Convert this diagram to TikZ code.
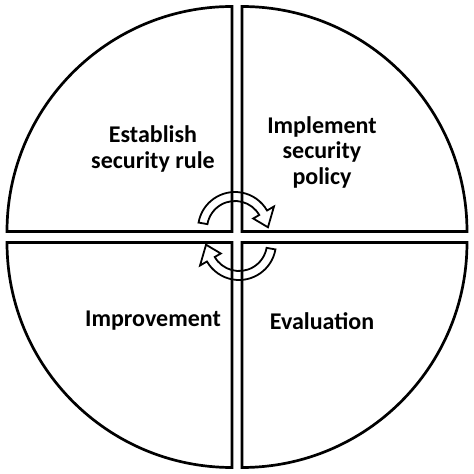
\documentclass[tikz,border=0pt]{standalone}
\usepackage{fontspec}
\setmainfont{Carlito}
\usepackage{tikz}

\tikzset{
	quarter/.style={draw=black, line width=2.7pt, line join=miter},
	label/.style={font=\bfseries\fontsize{24}{25.5}\selectfont, align=center, inner sep=0pt},
	cyclearrow/.pic={
		\draw[line width=1.8pt, line join=miter] (170:37) arc[start angle=170, end angle=30, radius=37]
			-- (30:45) -- (3:33) -- (30:21) -- (30:28)
			arc[start angle=30, end angle=170, radius=28] -- cycle;
	}
}

\begin{document}
\begin{tikzpicture}[x=1pt, y=1pt]
	\useasboundingbox (0,0) rectangle (474,474);

	% four quarters
	\draw[quarter] (232,242.5) -- (7,242.5) arc[start angle=180, end angle=90, radius=225] -- cycle;
	\draw[quarter] (242,242.5) -- (242,467.5) arc[start angle=90, end angle=0, radius=225] -- cycle;
	\draw[quarter] (232,231.5) -- (232,6.5) arc[start angle=270, end angle=180, radius=225] -- cycle;
	\draw[quarter] (242,231.5) -- (467,231.5) arc[start angle=0, end angle=-90, radius=225] -- cycle;

	% labels
	\node[label] (rule) at (153,325) {Establish\\security rule};
	\node[label] (policy) at (322,322) {Implement\\security\\policy};
	\node[label] (improve) at (153,153) {Improvement};
	\node[label] (eval) at (322,153) {Evaluation};

	% cycle arrows
	\pic at (235,245) {cyclearrow};
	\pic[rotate=180] at (239,231) {cyclearrow};
\end{tikzpicture}
\end{document}
